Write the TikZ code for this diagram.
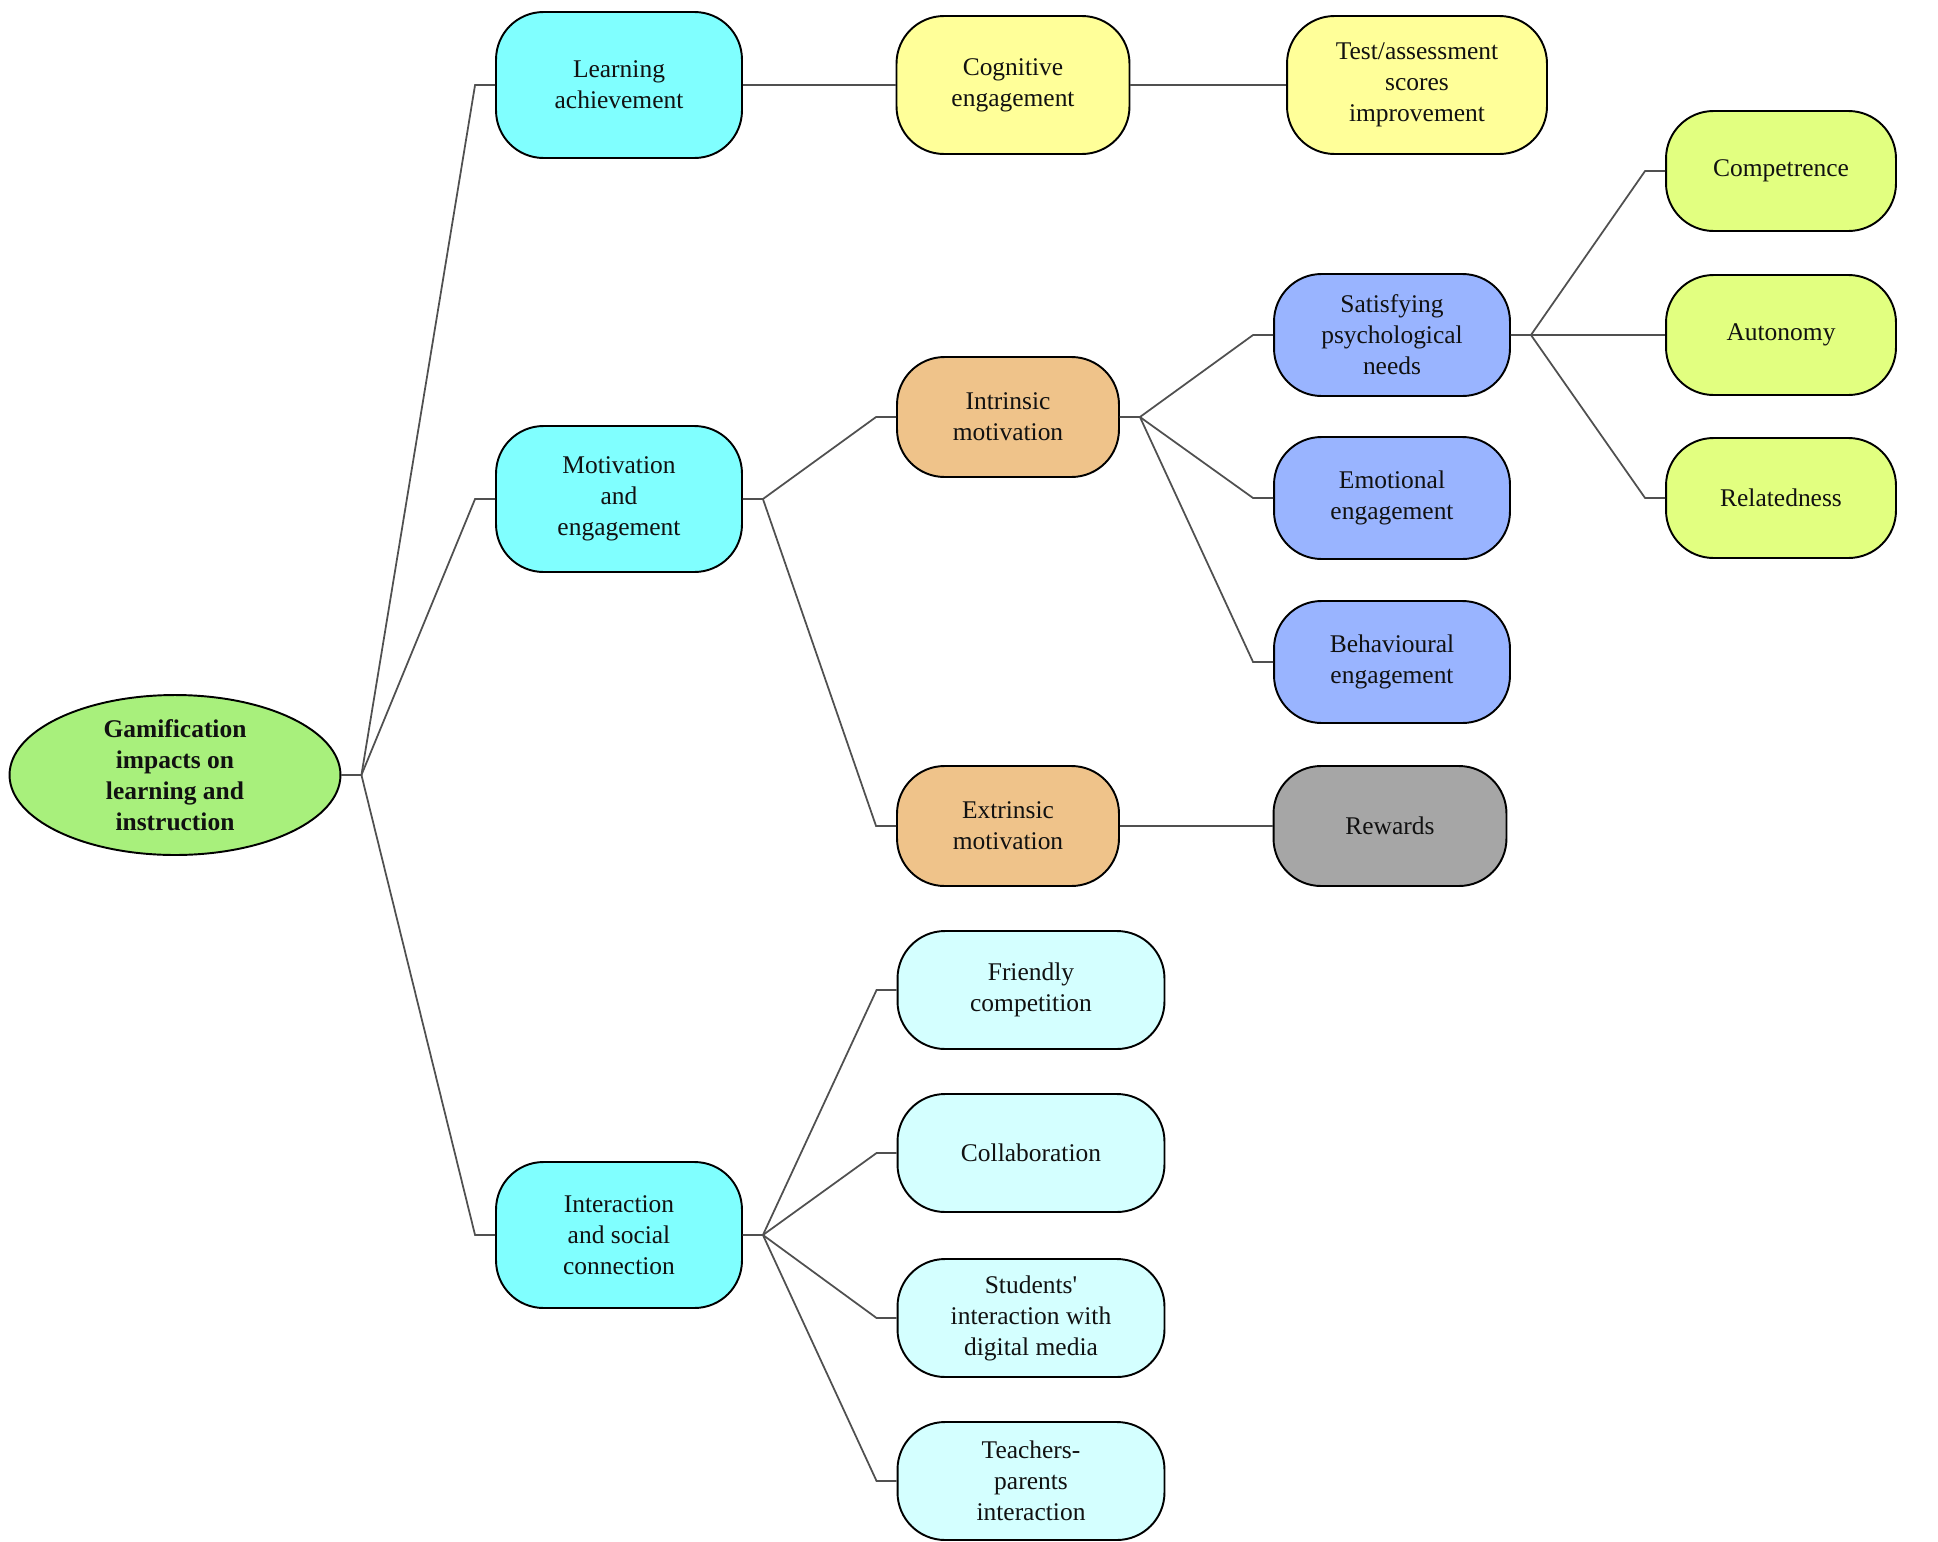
\documentclass[tikz,border=0pt]{standalone}
\usepackage{fontspec}
\setmainfont{Liberation Serif}[Ligatures=TeXOff]
\usetikzlibrary{calc,shapes.geometric}
\definecolor{ink}{HTML}{111111}
\definecolor{linkc}{HTML}{505050}
\definecolor{rootc}{HTML}{A8F07C}
\definecolor{topicc}{HTML}{80FFFF}
\definecolor{cognc}{HTML}{FFFF99}
\definecolor{motivc}{HTML}{EFC38A}
\definecolor{needc}{HTML}{99B4FF}
\definecolor{selfc}{HTML}{E2FF80}
\definecolor{rewardc}{HTML}{A6A6A6}
\definecolor{socialc}{HTML}{D4FFFF}

\begin{document}
\begin{tikzpicture}[x=0.02cm,y=-0.02cm,
  txt/.style={text=ink,align=center,inner sep=0pt,font=\fontsize{14.5}{17.6}\selectfont},
  box/.style={txt,draw=black,line width=1.1pt,rounded corners=0.95cm},
  topic/.style={box,fill=topicc,minimum width=4.92cm,minimum height=2.92cm},
  cogn/.style={box,fill=cognc,minimum height=2.76cm},
  motiv/.style={box,fill=motivc,minimum width=4.44cm,minimum height=2.4cm},
  need/.style={box,fill=needc,minimum width=4.72cm,minimum height=2.44cm},
  selfdet/.style={box,fill=selfc,minimum width=4.6cm,minimum height=2.4cm},
  social/.style={box,fill=socialc,minimum width=5.34cm,minimum height=2.36cm},
  link/.style={draw=linkc,line width=1pt}]
  \useasboundingbox (0,0) rectangle (1938,1542);

  % root
  \node[txt,ellipse,draw=black,line width=1.1pt,fill=rootc,minimum width=6.62cm,
        minimum height=3.2cm,font=\fontsize{14.5}{17.6}\selectfont\bfseries] (root) at (175,775)
       {Gamification\\impacts on\\learning and\\instruction};

  % first level
  \node[topic] (ach) at (619,85)   {Learning\\achievement};
  \node[topic] (mot) at (619,499)  {Motivation\\and\\engagement};
  \node[topic] (soc) at (619,1235) {Interaction\\and social\\connection};

  % learning achievement branch
  \node[cogn,minimum width=4.66cm] (cog)  at (1013,85) {Cognitive\\engagement};
  \node[cogn,minimum width=5.2cm]  (test) at (1417,85) {Test/assessment\\scores\\improvement};

  % motivation branch
  \node[motiv] (intr) at (1008,417) {Intrinsic\\motivation};
  \node[motiv] (extr) at (1008,826) {Extrinsic\\motivation};
  \node[need] (sat) at (1392,335) {Satisfying\\psychological\\needs};
  \node[need] (emo) at (1392,498) {Emotional\\engagement};
  \node[need] (beh) at (1392,662) {Behavioural\\engagement};
  \node[box,fill=rewardc,minimum width=4.66cm,minimum height=2.4cm] (rew) at (1390,826) {Rewards};
  \node[selfdet] (comp) at (1781,171) {Competrence};
  \node[selfdet] (auto) at (1781,335) {Autonomy};
  \node[selfdet] (rel)  at (1781,498) {Relatedness};

  % social branch
  \node[social] (friend) at (1031,990)  {Friendly\\competition};
  \node[social] (collab) at (1031,1153) {Collaboration};
  \node[social] (stud)   at (1031,1318) {Students'\\interaction with\\digital media};
  \node[social] (teach)  at (1031,1481) {Teachers-\\parents\\interaction};

  % forks
  \foreach \c in {ach,mot,soc}
    \draw[link] (root.east) -- ++(20,0) -- ($(\c.west)+(-20,0)$) -- (\c.west);
  \foreach \c in {intr,extr}
    \draw[link] (mot.east) -- ++(20,0) -- ($(\c.west)+(-20,0)$) -- (\c.west);
  \foreach \c in {sat,emo,beh}
    \draw[link] (intr.east) -- ++(20,0) -- ($(\c.west)+(-20,0)$) -- (\c.west);
  \foreach \c in {comp,auto,rel}
    \draw[link] (sat.east) -- ++(20,0) -- ($(\c.west)+(-20,0)$) -- (\c.west);
  \foreach \c in {friend,collab,stud,teach}
    \draw[link] (soc.east) -- ++(20,0) -- ($(\c.west)+(-20,0)$) -- (\c.west);

  % straight links
  \draw[link] (ach) -- (cog);
  \draw[link] (cog) -- (test);
  \draw[link] (extr) -- (rew);
\end{tikzpicture}
\end{document}
